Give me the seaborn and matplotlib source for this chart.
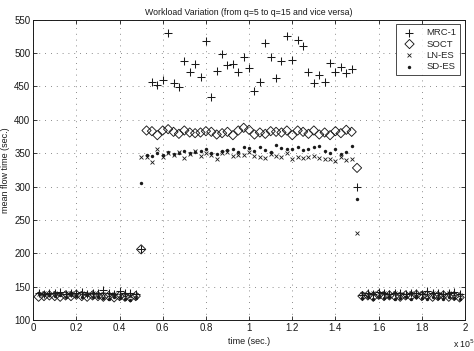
import numpy as np
import pandas as pd
import seaborn as sns
import matplotlib.pyplot as plt

# sampling times (x 10^5 sec.)
t_low1 = np.round(np.arange(0.025, 0.4751, 0.025), 4)
t_mid = np.round(np.arange(0.525, 1.4751, 0.025), 4)
t_low2 = np.round(np.arange(1.525, 1.9751, 0.025), 4)
t_step_up = [0.5]
t_step_down = [1.5]

# MRC-1
mrc_low1 = [140, 139, 141, 140, 142, 139, 141, 140, 142, 139, 140, 141, 145, 140, 139, 144, 141, 140, 139]
mrc_up = [206]
mrc_mid = [np.nan, 457, 452, 459.5, 529.5, 455, 449.5, 488, 471.5, 483.5, 464.5, 517.5, 433.5, 473.5,
           498.5, 481.5, 483, 471.5, 494.5, 477, 442.5, 457, 515.5, 494.5, 463, 488, 525.5, 489,
           519, 511, 471.5, 455.5, 467, 457, 485, 471.5, 478.5, 470.5, 476.5]
mrc_down = [299.5]
mrc_low2 = [138, 140, 139, 142, 141, 139, 140, 141, 139, 140, 141, 139, 144, 140, 141, 139, 140, 142, 139]

# SOCT
soct_low1 = [135, 136, 137, 136, 135, 137, 136, 138, 136, 135, 137, 136, 135, 136, 134, 136, 135, 134, 136]
soct_up = [206]
soct_mid = [384, 383, 377, 384, 386, 382, 379, 384, 381, 380, 381, 383, 382, 378, 380, 382, 377, 384,
            388, 385, 378, 381, 379, 383, 382, 381, 384, 377, 384, 382, 379, 384, 378, 381, 377,
            383, 380, 385, 382]
soct_down = [328]
soct_low2 = [136, 137, 135, 138, 136, 137, 136, 135, 137, 136, 138, 136, 137, 135, 136, 137, 135, 136, 134]

# LN-ES
lnes_low1 = [139, 141, 138, 140, 139, 141, 140, 138, 141, 139, 140, 138, 139, 137, 139, 138, 137, 136, 138]
lnes_up = [345]
lnes_mid = [345, 337, 357, 345, 350, 347, 352, 343, 349, 353, 346, 350, 348, 341, 350, 352, 346, 348,
            347, 352, 346, 345, 343, 349, 346, 344, 350, 342, 345, 343, 344, 346, 343, 341, 342,
            339, 344, 340, 341]
lnes_down = [230]
lnes_low2 = [139, 138, 140, 139, 141, 138, 140, 139, 138, 140, 139, 141, 138, 140, 139, 138, 140, 139, 138]

# SD-ES
sdes_low1 = [141, 137, 139, 136, 137, 135, 138, 136, 135, 137, 134, 135, 133, 132, 134, 133, 132, 130, 133]
sdes_up = [305]
sdes_mid = [347, 346, 350, 348, 352, 349, 351, 353, 350, 352, 354, 356, 351, 349, 353, 355, 357, 352,
            360, 358, 354, 359, 355, 352, 362, 358, 356, 357, 360, 355, 357, 359, 361, 353, 351,
            356, 349, 352, 361]
sdes_down = [281]
sdes_low2 = [133, 134, 132, 135, 133, 134, 132, 133, 135, 132, 134, 133, 132, 134, 133, 132, 134, 133, 132]

times = np.concatenate([t_low1, t_step_up, t_mid, t_step_down, t_low2])


def series(name, *parts):
    return pd.DataFrame({"time": times, "flow": np.concatenate(parts), "algo": name})


df = pd.concat([
    series("MRC-1", mrc_low1, mrc_up, mrc_mid, mrc_down, mrc_low2),
    series("SOCT", soct_low1, soct_up, soct_mid, soct_down, soct_low2),
    series("LN-ES", lnes_low1, lnes_up, lnes_mid, lnes_down, lnes_low2),
    series("SD-ES", sdes_low1, sdes_up, sdes_mid, sdes_down, sdes_low2),
], ignore_index=True)

sns.set_theme(style="white")
plt.rcParams["font.family"] = ["Liberation Sans", "DejaVu Sans"]

fig = plt.figure(figsize=(4.74, 3.51), dpi=100)
ax = fig.add_axes([0.070, 0.088, 0.911, 0.856])

styles = {
    "MRC-1": dict(marker="+", s=34, linewidth=0.75, color="k"),
    "SOCT": dict(marker="D", s=22, linewidth=0.65, facecolor="none", edgecolor="k"),
    "LN-ES": dict(marker="x", s=8, linewidth=0.6, color="k"),
    "SD-ES": dict(marker="o", s=6, linewidth=0, color="k"),
}
for name, kw in styles.items():
    sns.scatterplot(data=df[df["algo"] == name], x="time", y="flow", label=name, ax=ax, **kw)

ax.set_xlim(0, 2)
ax.set_ylim(100, 550)
ax.set_xticks(np.arange(0, 2.01, 0.2))
ax.set_xticklabels(["0", "0.2", "0.4", "0.6", "0.8", "1", "1.2", "1.4", "1.6", "1.8", "2"])
ax.set_yticks(np.arange(100, 551, 50))
ax.tick_params(direction="in", length=3, width=0.6, labelsize=7, pad=2,
               top=True, right=True, bottom=True, left=True, colors="k")
ax.grid(True, color="0.4", linewidth=0.6, linestyle=(0, (1, 6)))
for sp in ax.spines.values():
    sp.set_color("k")
    sp.set_linewidth(0.7)

ax.set_title("Workload Variation (from q=5 to q=15 and vice versa)", fontsize=6.3, pad=3, color="k")
ax.set_xlabel("time (sec.)", fontsize=6.5, labelpad=3, color="k")
ax.set_ylabel("mean flow time (sec.)", fontsize=6.5, labelpad=3, color="k")
fig.text(0.955, 0.002, r"x 10$^5$", fontsize=6.3, ha="left", va="bottom", color="k")

leg = ax.legend(loc="upper right", fontsize=6.8, frameon=True, fancybox=False,
                borderpad=0.4, labelspacing=0.25, handletextpad=0.8, borderaxespad=0.5,
                markerscale=1.0)
leg.get_frame().set_edgecolor("k")
leg.get_frame().set_linewidth(0.7)

fig.savefig("out.png", dpi=100)
